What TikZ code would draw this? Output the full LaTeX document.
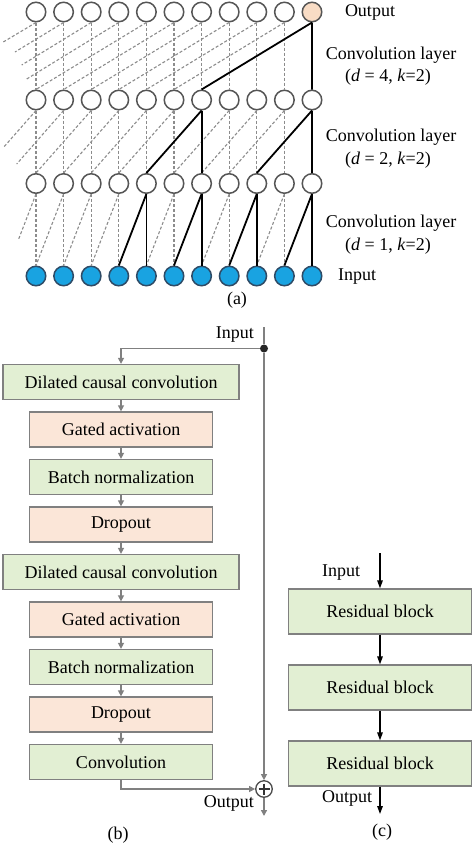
\documentclass[tikz,border=0pt]{standalone}
\usepackage{fontspec}
\setmainfont{Liberation Serif}
\usetikzlibrary{arrows.meta,calc}
\definecolor{ringgray}{HTML}{555555}
\definecolor{dashgray}{HTML}{8C8C8C}
\definecolor{inblue}{HTML}{19A3E1}
\definecolor{inedge}{HTML}{2E4B66}
\definecolor{outpeach}{HTML}{F8DCC5}
\definecolor{boxgreen}{HTML}{E2EFD3}
\definecolor{boxpeach}{HTML}{FBE6D8}
\definecolor{boxedge}{HTML}{808080}
\definecolor{flowgray}{HTML}{808080}
\begin{document}
\begin{tikzpicture}[x=1pt,y=-1pt,
  font=\fontsize{18}{21}\selectfont,
  neuron/.style={circle,draw=ringgray,line width=1.5pt,fill=white,minimum size=19.5pt,inner sep=0pt},
  inneuron/.style={neuron,fill=inblue,draw=inedge},
  outneuron/.style={neuron,fill=outpeach},
  dashlink/.style={draw=dashgray,line width=1.1pt,dash pattern=on 3pt off 2pt},
  solidlink/.style={draw=black,line width=1.8pt},
  label/.style={inner sep=0pt},
  gbox/.style={draw=boxedge,line width=1.3pt,fill=boxgreen,minimum height=35pt,inner sep=0pt},
  pbox/.style={gbox,fill=boxpeach},
  flow/.style={draw=flowgray,line width=1.4pt,-{Triangle[length=6pt,width=6pt]}},
  flowline/.style={draw=flowgray,line width=1.4pt},
  cflow/.style={draw=black,line width=1.4pt,-{Triangle[length=8pt,width=5.5pt]}},
  cbox/.style={draw=boxedge,line width=1.3pt,fill=boxgreen,minimum width=183pt,minimum height=45pt,inner sep=0pt}
]
\useasboundingbox (0,0) rectangle (474,846);

% ---------------- panel (a) ----------------
\foreach \i in {0,...,10} {
  \pgfmathsetmacro\xx{36+27.6*\i}
  \node[neuron] (m\i) at (\xx,100) {};
  \node[neuron] (l\i) at (\xx,183.5) {};
  \node[inneuron] (in\i) at (\xx,276) {};
}
\foreach \i in {0,...,9} {
  \pgfmathsetmacro\xx{36+27.6*\i}
  \node[neuron] (t\i) at (\xx,12) {};
}
\node[outneuron] (t10) at (312,12) {};

% dashed verticals
\foreach \i in {0,...,9} \draw[dashlink] (t\i.south) -- (m\i.north);
\foreach \i in {0,1,2,3,4,5,7,8,9} \draw[dashlink] (m\i.south) -- (l\i.north);
\foreach \i in {0,1,2,3,5,7,9} \draw[dashlink] (l\i.south) -- (in\i.north);
% dashed diagonals
\foreach \i [evaluate=\i as \j using int(\i-4)] in {4,...,9} \draw[dashlink] (t\i.south) -- (m\j.north);
\foreach \i [evaluate=\i as \j using int(\i-2)] in {2,3,4,5,7,8,9} \draw[dashlink] (m\i.south) -- (l\j.north);
\foreach \i [evaluate=\i as \j using int(\i-1)] in {1,2,3,5,7,9} \draw[dashlink] (l\i.south) -- (in\j.north);
% stubs leaving the picture on the left
\coordinate (st0) at (3.3,42);
\coordinate (st1) at (15,52);
\coordinate (st2) at (21.7,65);
\coordinate (st3) at (26.7,79);
\foreach \i in {0,...,3} \draw[dashlink] (t\i.south) -- (st\i);
\coordinate (sm0) at (3.3,147.6);
\coordinate (sm1) at (16.7,164);
\foreach \i in {0,1} \draw[dashlink] (m\i.south) -- (sm\i);
\coordinate (sl0) at (18.3,240);
\draw[dashlink] (l0.south) -- (sl0);

% solid receptive field
\draw[solidlink] (t10.south) -- (m10.north);
\draw[solidlink] (t10.south) -- (m6.north);
\draw[solidlink] (m10.south) -- (l10.north);
\draw[solidlink] (m10.south) -- (l8.north);
\draw[solidlink] (m6.south) -- (l6.north);
\draw[solidlink] (m6.south) -- (l4.north);
\foreach \i [evaluate=\i as \j using int(\i-1)] in {4,6,8,10} {
  \draw[solidlink] (l\i.south) -- (in\i.north);
  \draw[solidlink] (l\i.south) -- (in\j.north);
}

\node[label] (lout) at (370,12) {Output};
\node[label] (c4a) at (391,55) {Convolution layer};
\node[label] (c4b) at (388,77) {(\textit{d} = 4, \textit{k}=2)};
\node[label] (c2a) at (391,137) {Convolution layer};
\node[label] (c2b) at (388,160) {(\textit{d} = 2, \textit{k}=2)};
\node[label] (c1a) at (391,223) {Convolution layer};
\node[label] (c1b) at (388,246) {(\textit{d} = 1, \textit{k}=2)};
\node[label] (lin) at (357,277) {Input};
\node[label] (la) at (237,300) {(a)};

% ---------------- panel (b) ----------------
\node[gbox,minimum width=236pt] (b1) at (121,382) {Dilated causal convolution};
\node[pbox,minimum width=183pt] (b2) at (121,429.5) {Gated activation};
\node[gbox,minimum width=183pt] (b3) at (121,477) {Batch normalization};
\node[pbox,minimum width=183pt] (b4) at (121,524.5) {Dropout};
\node[gbox,minimum width=236pt] (b5) at (121,572) {Dilated causal convolution};
\node[pbox,minimum width=183pt] (b6) at (121,619.5) {Gated activation};
\node[gbox,minimum width=183pt] (b7) at (121,667) {Batch normalization};
\node[pbox,minimum width=183pt] (b8) at (121,714.5) {Dropout};
\node[gbox,minimum width=183pt] (b9) at (121,762) {Convolution};
\foreach \a/\b in {b1/b2,b2/b3,b3/b4,b4/b5,b5/b6,b6/b7,b7/b8,b8/b9}
  \draw[flow] (\a.south) -- (\b.north);

\coordinate (btop) at (264,327);
\node[circle,fill=black!85,inner sep=0pt,minimum size=8pt] (bdot) at (264,348.5) {};
\node[circle,draw=black!70,line width=1.3pt,fill=white,minimum size=16.5pt,inner sep=0pt] (bplus) at (264,789) {};
\draw[draw=black!80,line width=1.3pt] ($(bplus.center)+(-5.5,0)$) -- ($(bplus.center)+(5.5,0)$);
\draw[draw=black!80,line width=1.3pt] ($(bplus.center)+(0,-5.5)$) -- ($(bplus.center)+(0,5.5)$);
\draw[flowline] (btop) -- (bdot);
\draw[flow] (bdot) -| (b1.north);
\draw[flow] (bdot) -- (bplus.north);
\draw[flow] (b9.south) |- (bplus.west);
\coordinate (bout) at (264,816);
\draw[flow] (bplus.south) -- (bout);
\node[label,anchor=east] (binl) at (254,335) {Input};
\node[label,anchor=east] (boutl) at (254,803) {Output};
\node[label] (lb) at (118,835) {(b)};

% ---------------- panel (c) ----------------
\node[cbox] (c1) at (380,611.5) {Residual block};
\node[cbox] (c2) at (380,687.5) {Residual block};
\node[cbox] (c3) at (380,763.5) {Residual block};
\coordinate (cin) at (380,553);
\coordinate (cout) at (380,814);
\draw[cflow] (cin) -- (c1.north);
\draw[cflow] (c1.south) -- (c2.north);
\draw[cflow] (c2.south) -- (c3.north);
\draw[cflow] (c3.south) -- (cout);
\node[label,anchor=west] (cinl) at (322,573) {Input};
\node[label,anchor=west] (coutl) at (322,798) {Output};
\node[label] (lc) at (382,832) {(c)};
\end{tikzpicture}
\end{document}
